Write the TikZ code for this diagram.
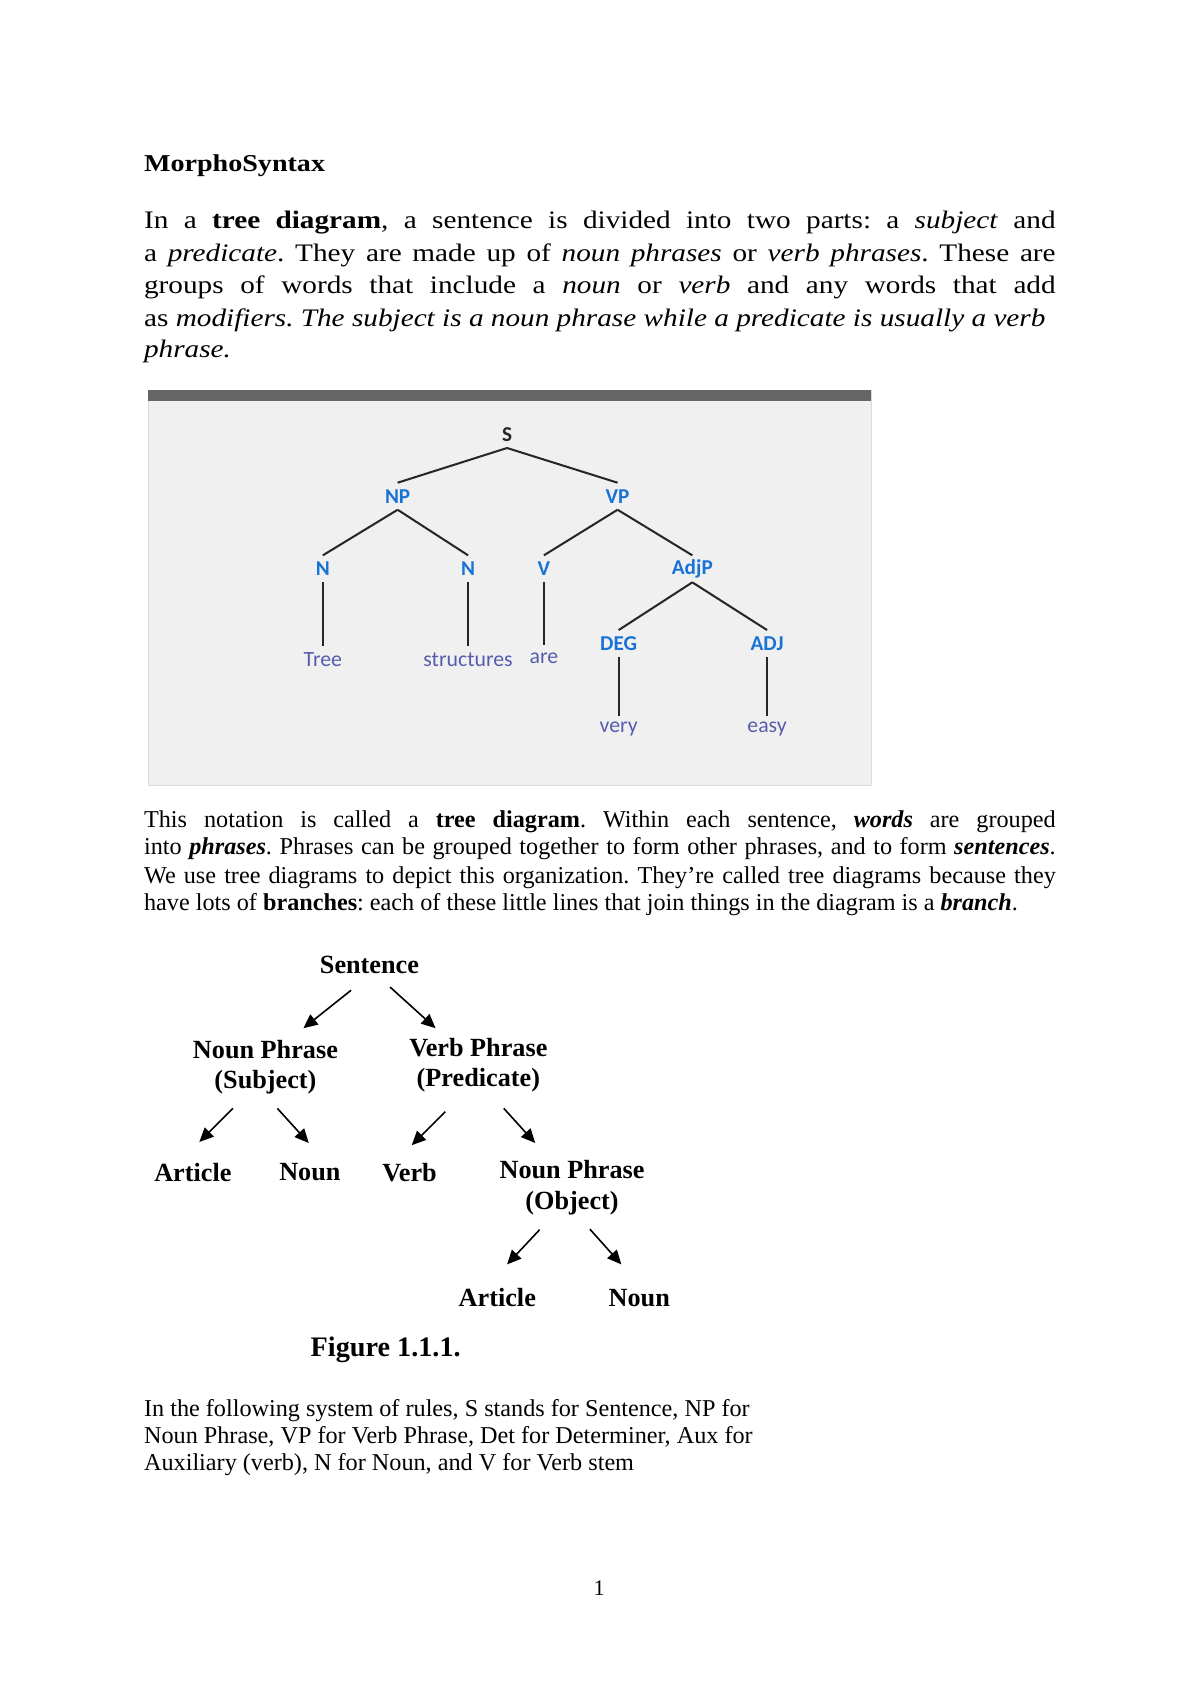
\documentclass[tikz,border=0pt]{standalone}
\usepackage{fontspec}
\setmainfont{Liberation Serif}
\newfontfamily\wideserif[FakeStretch=1.16]{Liberation Serif}
\newfontfamily\treesans{Carlito}
\usetikzlibrary{arrows.meta,calc}
\definecolor{tagblue}{RGB}{25,115,215}
\definecolor{wordblue}{RGB}{88,92,172}
\definecolor{panelgray}{RGB}{240,240,240}
\definecolor{panelline}{RGB}{218,218,218}
\definecolor{bargray}{RGB}{102,102,102}
\frenchspacing
\begin{document}
\begin{tikzpicture}[x=0.5372pt,y=-0.5372pt,
	bodyline/.style={anchor=base west,inner sep=0pt,outer sep=0pt},
	tag/.style={font=\treesans\bfseries\fontsize{10.5}{12}\selectfont,text=tagblue,inner sep=0pt,minimum height=13pt},
	word/.style={tag,font=\treesans\fontsize{10.8}{12}\selectfont,text=wordblue},
	branch/.style={draw=black!85,line width=1pt},
	phrase/.style={font=\bfseries\fontsize{13}{15.2}\selectfont,align=center,inner sep=0pt},
	arr/.style={-{Triangle[length=7pt,width=6.3pt]},line width=0.8pt}]
	\useasboundingbox (0,0) rectangle (1108.2,1567.2);
	% heading and first paragraph
	\begin{scope}[every node/.style={bodyline,font=\wideserif\fontsize{12.5}{15}\selectfont}]
	\node[font=\wideserif\bfseries\fontsize{12}{15}\selectfont] (title) at (133,158) {MorphoSyntax};
	\node (pa1) at (133,211) {\makebox[452pt][s]{In a \textbf{tree diagram}, a sentence is divided into two parts: a \textit{subject} and}};
	\node (pa2) at (133,241) {\makebox[452pt][s]{a \textit{predicate}. They are made up of \textit{noun phrases} or \textit{verb phrases}. These are}};
	\node (pa3) at (133,271) {\makebox[452pt][s]{groups of words that include a \textit{noun} or \textit{verb} and any words that add}};
	\node (pa4) at (133,301) {as \textit{modifiers. The subject is a noun phrase while a predicate is usually a verb}};
	\node (pa5) at (133,330) {\textit{phrase.}};
	\end{scope}
	% picture of the tree
	\fill[panelgray,draw=panelline] (137,360) rectangle (804,725);
	\fill[bargray] (137,360) rectangle (804,370);
	\node[tag,text=black!85] (s) at (468,401) {S};
	\node[tag] (np) at (367,458) {NP};
	\node[tag] (vp) at (570,458) {VP};
	\node[tag] (n1) at (298,525) {N};
	\node[tag] (n2) at (432,525) {N};
	\node[tag] (v) at (502,525) {V};
	\node[tag] (adjp) at (639,525) {AdjP};
	\node[tag] (deg) at (571,594) {DEG};
	\node[tag] (adj) at (708,594) {ADJ};
	\node[word] (tree) at (298,609) {Tree};
	\node[word] (structures) at (432,609) {structures};
	\node[word] (are) at (502,608) {are};
	\node[word] (very) at (571,673) {very};
	\node[word] (easy) at (708,673) {easy};
	\draw[branch] (s.south) -- (np.north);
	\draw[branch] (s.south) -- (vp.north);
	\draw[branch] (np.south) -- (n1.north);
	\draw[branch] (np.south) -- (n2.north);
	\draw[branch] (vp.south) -- (v.north);
	\draw[branch] (vp.south) -- (adjp.north);
	\draw[branch] (adjp.south) -- (deg.north);
	\draw[branch] (adjp.south) -- (adj.north);
	\draw[branch] (n1.south) -- (tree.north);
	\draw[branch] (n2.south) -- (structures.north);
	\draw[branch] (v.south) -- (are.north);
	\draw[branch] (deg.south) -- (very.north);
	\draw[branch] (adj.south) -- (easy.north);
	% second paragraph
	\begin{scope}[every node/.style={bodyline,font=\fontsize{12}{14}\selectfont}]
	\node (pb1) at (133,764) {\makebox[452pt][s]{This notation is called a \textbf{tree diagram}. Within each sentence, \textbf{\textit{words}} are grouped}};
	\node (pb2) at (133,789) {\makebox[452pt][s]{into \textbf{\textit{phrases}}. Phrases can be grouped together to form other phrases, and to form \textbf{\textit{sentences}}.}};
	\node (pb3) at (133,815) {\makebox[452pt][s]{We use tree diagrams to depict this organization. They’re called tree diagrams because they}};
	\node (pb4) at (133,840) {have lots of \textbf{branches}: each of these little lines that join things in the diagram is a \textbf{\textit{branch}}.};
	\end{scope}
	% sentence diagram
	\node[phrase] (sent) at (341,891) {Sentence};
	\node[phrase] (nps) at (245,985) {Noun Phrase\\(Subject)};
	\node[phrase] (vpp) at (441.5,983) {Verb Phrase\\(Predicate)};
	\node[phrase] (art1) at (178,1082) {Article};
	\node[phrase] (noun1) at (286,1082) {Noun};
	\node[phrase] (verb) at (378,1082) {Verb};
	\node[phrase] (npo) at (528,1096) {Noun Phrase\\(Object)};
	\node[phrase] (art2) at (459,1198) {Article};
	\node[phrase] (noun2) at (590,1198) {Noun};
	\draw[arr] ($(sent)+(-17,23)$) -- ($(nps)+(35,-36)$);
	\draw[arr] ($(sent)+(19,20)$) -- ($(vpp)+(-39.5,-34)$);
	\draw[arr] ($(nps)+(-30,38)$) -- ($(art1)+(6,-28)$);
	\draw[arr] ($(nps)+(11,38)$) -- ($(noun1)+(-1,-27)$);
	\draw[arr] ($(vpp)+(-30.5,43)$) -- ($(verb)+(2,-25)$);
	\draw[arr] ($(vpp)+(23.5,40)$) -- ($(npo)+(-34,-41)$);
	\draw[arr] ($(npo)+(-30,39)$) -- ($(art2)+(9,-31)$);
	\draw[arr] ($(npo)+(16.5,38.5)$) -- ($(noun2)+(-16.5,-31)$);
	\node[font=\bfseries\fontsize{14}{16}\selectfont,inner sep=0pt] (fig) at (356,1246) {Figure 1.1.1.};
	% third paragraph
	\begin{scope}[every node/.style={bodyline,font=\fontsize{12}{14}\selectfont}]
	\node (pc1) at (133,1307) {In the following system of rules, S stands for Sentence, NP for};
	\node (pc2) at (133,1332) {Noun Phrase, VP for Verb Phrase, Det for Determiner, Aux for};
	\node (pc3) at (133,1357) {Auxiliary (verb), N for Noun, and V for Verb stem};
	\end{scope}
	\node[font=\fontsize{11}{13}\selectfont,inner sep=0pt] (pagenum) at (553,1466) {1};
\end{tikzpicture}
\end{document}
